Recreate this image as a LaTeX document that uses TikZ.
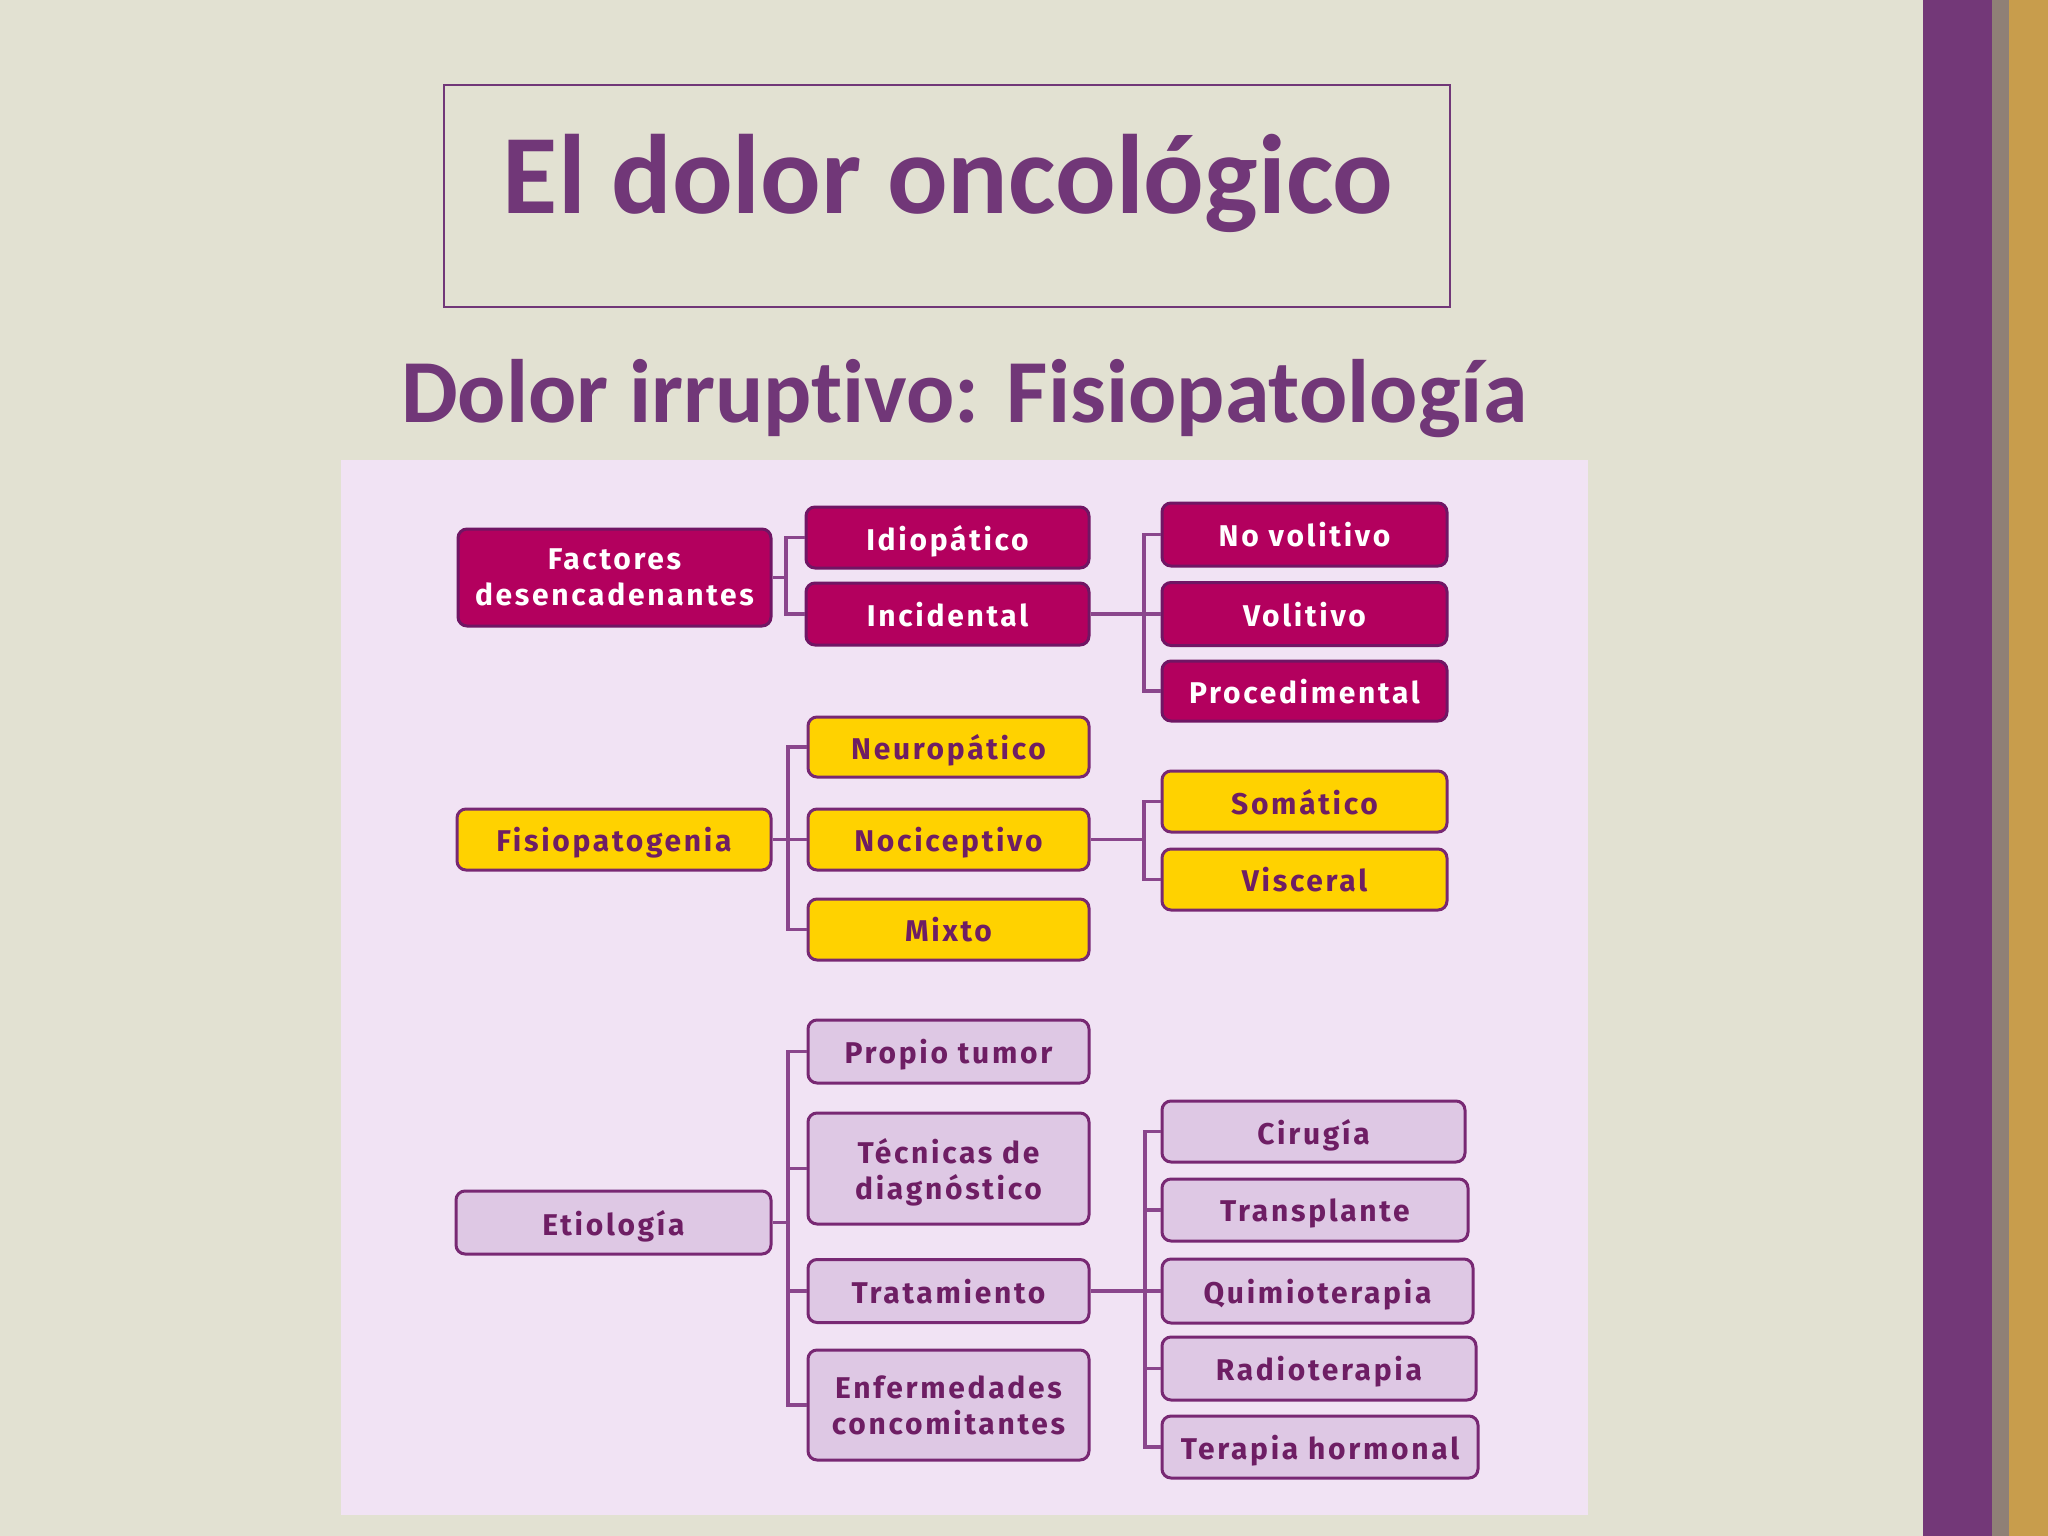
\documentclass[tikz,border=0pt]{standalone}
\usepackage{fontspec}
\setmainfont{Carlito}[Ligatures=NoCommon]
\newfontfamily\boxfam{Fira Sans}[LetterSpace=9]

\definecolor{slidebg}{RGB}{226,225,210}
\definecolor{panelbg}{RGB}{241,227,244}
\definecolor{stripepurple}{RGB}{115,56,120}
\definecolor{stripegray}{RGB}{143,128,118}
\definecolor{stripegold}{RGB}{200,157,76}
\definecolor{titlecol}{RGB}{113,55,120}
\definecolor{magfill}{RGB}{179,0,94}
\definecolor{magline}{RGB}{112,22,100}
\definecolor{yelfill}{RGB}{255,210,0}
\definecolor{lavfill}{RGB}{222,200,228}
\definecolor{boxline}{RGB}{120,40,115}
\definecolor{txtpurple}{RGB}{110,30,100}
\definecolor{linkcol}{RGB}{138,70,140}

\tikzset{every picture/.style={line width=0.75pt}}
\tikzset{
  box/.style={draw=boxline, line width=3pt, rounded corners=9pt, align=center,
    inner sep=0pt, text depth=0pt, font=\boxfam\bfseries\fontsize{30}{36}\selectfont},
  magbox/.style={box, fill=magfill, draw=magline, text=white},
  yelbox/.style={box, fill=yelfill, text=txtpurple},
  lavbox/.style={box, fill=lavfill, text=txtpurple},
  link/.style={draw=linkcol, line width=3.5pt},
}

\begin{document}
\begin{tikzpicture}[x=1pt,y=1pt,yscale=-1,xscale=1]
\useasboundingbox (0,0) rectangle (2048,1536);

%Slide background and side stripes
\fill[slidebg] (0,0) rectangle (2048,1536);
\fill[stripepurple] (1923,0) rectangle (1992,1536);
\fill[stripegray] (1992,0) rectangle (2009,1536);
\fill[stripegold] (2009,0) rectangle (2048,1536);

%Title frame
\draw[titlecol, line width=1.5pt] (444,85) rectangle (1450,307);
% Text Node
\node[anchor=base, inner sep=0pt, text=titlecol, font=\bfseries\fontsize{113}{130}\selectfont] (title) at (948,213) {El dolor oncológico};
% Text Node
\node[anchor=base, inner sep=0pt, text=titlecol, font=\bfseries\fontsize{90}{110}\selectfont] (subtitle) at (964,422) {Dolor irruptivo: Fisiopatología};

%Diagram panel
\fill[panelbg] (341,460) rectangle (1588,1515);

%Factores desencadenantes
\node[magbox, minimum width=313pt, minimum height=97pt] (fac) at (614.5,577.5) {Factores\\desencadenantes};
\node[magbox, minimum width=283pt, minimum height=61pt] (idio) at (947.5,537.5) {Idiopático};
\node[magbox, minimum width=283pt, minimum height=62pt] (inci) at (947.5,614) {Incidental};
\node[magbox, minimum width=285pt, minimum height=63pt] (novol) at (1304.5,534.5) {No volitivo};
\node[magbox, minimum width=285pt, minimum height=63pt] (vol) at (1304.5,614) {Volitivo};
\node[magbox, minimum width=285pt, minimum height=60pt] (proc) at (1304.5,691) {Procedimental};

%Fisiopatogenia
\node[yelbox, minimum width=314pt, minimum height=61pt] (fisio) at (614,839.5) {Fisiopatogenia};
\node[yelbox, minimum width=281pt, minimum height=60pt] (neuro) at (948.5,747) {Neuropático};
\node[yelbox, minimum width=281pt, minimum height=61pt] (noci) at (948.5,839.5) {Nociceptivo};
\node[yelbox, minimum width=281pt, minimum height=61pt] (mixto) at (948.5,929.5) {Mixto};
\node[yelbox, minimum width=285pt, minimum height=61pt] (soma) at (1304.5,801.5) {Somático};
\node[yelbox, minimum width=285pt, minimum height=61pt] (visc) at (1304.5,879.5) {Visceral};

%Etiologia
\node[lavbox, minimum width=315pt, minimum height=63pt] (etio) at (613.5,1222.5) {Etiología};
\node[lavbox, minimum width=281pt, minimum height=63pt] (propio) at (948.5,1051.5) {Propio tumor};
\node[lavbox, minimum width=281pt, minimum height=111pt] (tecn) at (948.5,1168.5) {Técnicas de\\diagnóstico};
\node[lavbox, minimum width=281pt, minimum height=63pt] (trat) at (948.5,1291) {Tratamiento};
\node[lavbox, minimum width=281pt, minimum height=110pt] (enfer) at (948.5,1405) {Enfermedades\\concomitantes};
\node[lavbox, minimum width=303pt, minimum height=61pt] (ciru) at (1313.5,1131.5) {Cirugía};
\node[lavbox, minimum width=306pt, minimum height=62pt] (trans) at (1315,1210) {Transplante};
\node[lavbox, minimum width=311pt, minimum height=64pt] (quim) at (1317.5,1291) {Quimioterapia};
\node[lavbox, minimum width=314pt, minimum height=63pt] (radio) at (1319,1368.5) {Radioterapia};
\node[lavbox, minimum width=316pt, minimum height=62pt] (terap) at (1320,1447) {Terapia hormonal};

%Bracket positions
\coordinate (b1) at (786,577);
\coordinate (b2) at (1144,614);
\coordinate (b3) at (788,839);
\coordinate (b4) at (1144,839);
\coordinate (b5) at (788,1222);
\coordinate (b6) at (1145,1291);

%Connectors row 1
\draw[link] (fac.east) -- (fac.east -| b1);
\draw[link] (idio.west) -- (idio.west -| b1) -- (inci.west -| b1) -- (inci.west);
\draw[link] (inci.east) -- (vol.west);
\draw[link] (novol.west) -- (novol.west -| b2) -- (proc.west -| b2) -- (proc.west);

%Connectors row 2
\draw[link] (fisio.east) -- (noci.west);
\draw[link] (neuro.west) -- (neuro.west -| b3) -- (mixto.west -| b3) -- (mixto.west);
\draw[link] (noci.east) -- (noci.east -| b4);
\draw[link] (soma.west) -- (soma.west -| b4) -- (visc.west -| b4) -- (visc.west);

%Connectors row 3
\draw[link] (etio.east) -- (etio.east -| b5);
\draw[link] (propio.west) -- (propio.west -| b5) -- (enfer.west -| b5) -- (enfer.west);
\draw[link] (tecn.west) -- (tecn.west -| b5);
\draw[link] (trat.west) -- (trat.west -| b5);
\draw[link] (trat.east) -- (quim.west);
\draw[link] (ciru.west) -- (ciru.west -| b6) -- (terap.west -| b6) -- (terap.west);
\draw[link] (trans.west) -- (trans.west -| b6);
\draw[link] (radio.west) -- (radio.west -| b6);

\end{tikzpicture}
\end{document}
